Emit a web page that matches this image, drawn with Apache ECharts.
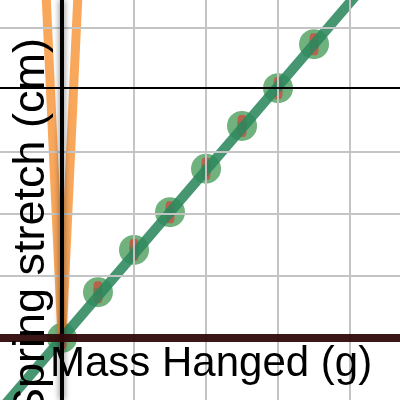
<!DOCTYPE html>
<html>
<head>
<meta charset="utf-8">
<script src="https://cdn.jsdelivr.net/npm/echarts@6/dist/echarts.min.js"></script>
<style>html,body{margin:0;padding:0;background:#fff}#main{width:400px;height:400px}</style>
</head>
<body>
<div id="main"></div>
<script>
var chart = echarts.init(document.getElementById('main'));

// data
var massX = [0, 0.5, 1, 1.5, 2, 2.5, 3, 3.5];
var stretchY = [0, 0.74, 1.42, 2.03, 2.73, 3.42, 4.03, 4.74];
var fitX = [-0.9, 4.1];
var fitY = [-1.22, 5.55];
var orangeLeftX = [0, -0.22];
var orangeRightX = [0, 0.22];
var orangeY = [0, 5.5];
var gridX = [1, 2, 3, 4];
var gridY = [1, 2, 3, 5];
var refLineY = 4.03;

function pairs(xs, ys) {
    return xs.map(function (x, i) { return [x, ys[i]]; });
}

var option = {
    animation: false,
    grid: { left: 0, right: 0, top: 0, bottom: 0 },
    xAxis: {
        type: 'value', min: -0.861, max: 4.694,
        axisLine: { show: false }, axisTick: { show: false },
        axisLabel: { show: false }, splitLine: { show: false }
    },
    yAxis: {
        type: 'value', min: -1.0, max: 5.452,
        axisLine: { show: false }, axisTick: { show: false },
        axisLabel: { show: false }, splitLine: { show: false }
    },
    series: [
        {
            // grid lines
            type: 'line', data: [], silent: true,
            markLine: {
                symbol: 'none', silent: true, label: { show: false },
                lineStyle: { color: '#c4c4c4', width: 2, type: 'solid' },
                data: gridX.map(function (v) { return { xAxis: v }; })
                    .concat(gridY.map(function (v) { return { yAxis: v }; }))
            }
        },
        {
            type: 'line', data: pairs(orangeLeftX, orangeY), showSymbol: false,
            lineStyle: { color: 'rgba(247,145,50,0.8)', width: 9 }
        },
        {
            type: 'line', data: pairs(orangeRightX, orangeY), showSymbol: false,
            lineStyle: { color: 'rgba(247,145,50,0.8)', width: 9 }
        },
        {
            // axes
            type: 'line', data: [], silent: true,
            markLine: {
                symbol: 'none', silent: true, label: { show: false },
                data: [
                    { xAxis: 0, lineStyle: { color: '#000', width: 4, type: 'solid', shadowColor: 'rgba(0,0,0,0.6)', shadowBlur: 6 } },
                    { yAxis: refLineY, lineStyle: { color: '#000', width: 2, type: 'solid' } },
                    { yAxis: 0, lineStyle: { color: 'rgba(50,10,10,0.95)', width: 8, type: 'solid' } }
                ]
            }
        },
        {
            type: 'line', data: pairs(fitX, fitY), showSymbol: false,
            lineStyle: { color: 'rgba(45,135,95,0.88)', width: 10 }
        },
        {
            type: 'scatter', data: pairs(massX, stretchY), symbolSize: 30,
            itemStyle: { color: 'rgba(45,140,65,0.85)' }
        },
        {
            type: 'scatter', data: pairs(massX, stretchY), symbol: 'roundRect', symbolSize: [9, 22],
            itemStyle: { color: 'rgba(205,75,65,0.95)' }
        },
        {
            type: 'scatter', data: pairs(massX, stretchY), symbol: 'rect', symbolSize: [9, 8],
            itemStyle: { color: 'rgba(60,130,80,0.55)' }
        }
    ],
    graphic: [
        {
            type: 'text', left: 50, top: 343, z: 100,
            style: { text: 'Mass Hanged (g)', font: '42px "Liberation Sans", Arial, sans-serif', fill: '#000' }
        },
        {
            type: 'text', x: 54, y: 228, rotation: Math.PI / 2, z: 100,
            style: { text: 'Spring stretch (cm)', font: '45px "Liberation Sans", Arial, sans-serif', fill: '#000',
                     align: 'center', verticalAlign: 'bottom' }
        }
    ]
};

chart.setOption(option);
</script>
</body>
</html>
